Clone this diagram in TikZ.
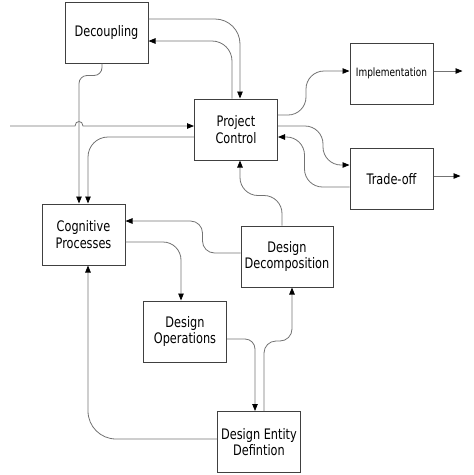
\documentclass[tikz,border=0pt]{standalone}
\usepackage{fontspec}
\setmainfont{DejaVu Sans}[FakeStretch=0.78]
\usetikzlibrary{positioning,arrows.meta}

\begin{document}
\begin{tikzpicture}[x=1pt,y=-1pt,node distance=10pt,on grid,
		>={Triangle[length=7pt,width=5.5pt,color=black]},
		block/.style={rectangle,draw=black!75,line width=1pt,align=center,
			minimum width=83pt,minimum height=61pt,inner sep=2pt,
			font=\fontsize{14.5}{16.7}\selectfont},
		link/.style={draw=black!55,line width=0.8pt,rounded corners=#1},
		link/.default=18pt]
		\useasboundingbox (0,0) rectangle (474,475);

		\node[block]  (dec)                                      at (106.5,32.5) {Decoupling};
		\node[block]  (pc)    [below right=97pt and 129.5pt of dec]  {Project\\Control};
		\node[block,font=\fontsize{11.5}{14}\selectfont]
		              (impl)  [above right=56pt and 155.5pt of pc]   {Implementation};
		\node[block]  (trade) [below=105.5pt of impl]                {Trade-off};
		\node[block]  (cog)   [below left=202pt and 23pt of dec]     {Cognitive\\Processes};
		\node[block,minimum width=92pt]
		              (dd)    [below right=127pt and 51pt of pc]     {Design\\Decomposition};
		\node[block]  (dop)   [below right=97pt and 101.5pt of cog]  {Design\\Operations};
		\node[block]  (ded)   [below right=110.5pt and 74pt of dop]  {Design Entity\\Defintion};

		\coordinate (in)       at (10,126);
		\coordinate (implout)  at ([xshift=29pt,yshift=2.5pt]impl.east);
		\coordinate (tradeout) at ([xshift=27pt,yshift=3pt]trade.east);

		% top loop
		\path[link=25pt,->] ([yshift=13.5pt]dec.east) -| ([xshift=4pt]pc.north);
		\path[link=20pt,->] ([xshift=-4pt]pc.north) |- ([yshift=-8.5pt]dec.east);
		\path[link=8pt,->]  ([xshift=-4.5pt]dec.south) -- ++(0,12) -| ([xshift=-4.5pt]cog.north);

		% input line with a jump over the decoupling line
		\path[link=0pt,->] (in) -- (75,126) .. controls (75,120) and (83,120) .. (83,126)
			-- ([yshift=3.5pt]pc.west);
		\path[link=20pt,->] ([yshift=-7.5pt]pc.west) -| ([xshift=4.5pt]cog.north);

		% right side
		\path[link,->] ([yshift=14.5pt]pc.east) -- ++(28,0) |- ([yshift=2.5pt]impl.west);
		\path[link=0pt,->] ([yshift=2.5pt]impl.east) -- (implout);
		\path[link,->] ([yshift=3.5pt]pc.east) -- ++(45,0) |- ([yshift=14pt]trade.west);
		\path[link,->] ([yshift=-8pt]trade.west) -- ++(-45,0) |- ([yshift=-7.5pt]pc.east);
		\path[link=0pt,->] ([yshift=3pt]trade.east) -- (tradeout);

		% design loop
		\path[link,->]      ([xshift=-5pt]dd.north) -- ++(0,-30) -| ([xshift=4pt]pc.south);
		\path[link=12pt,->] ([yshift=3.5pt]dd.west) -- ++(-38,0) |- ([yshift=13.5pt]cog.east);
		\path[link,->]      ([yshift=-7.5pt]cog.east) -| ([xshift=-4pt]dop.north);
		\path[link=10pt,->] ([yshift=-7.5pt]dop.east) -| ([xshift=-4pt]ded.north);
		\path[link=12pt,->] ([xshift=5pt]ded.north) -- ++(0,-70) -| ([xshift=5pt]dd.south);
		\path[link=28pt,->] ([yshift=3pt]ded.west) -| ([xshift=4.5pt]cog.south);
\end{tikzpicture}
\end{document}
